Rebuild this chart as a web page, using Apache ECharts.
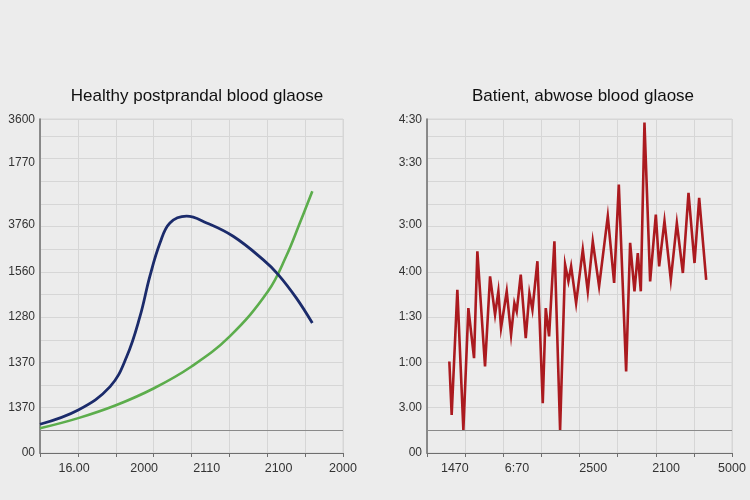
<!DOCTYPE html>
<html>
<head>
<meta charset="utf-8">
<script src="https://cdn.jsdelivr.net/npm/echarts@6/dist/echarts.min.js"></script>
<style>html,body{margin:0;padding:0;background:#ececec;}#c{width:750px;height:500px;}</style>
</head>
<body>
<div id="c"></div>
<script>
// ---- Data ----
const leftTitle = 'Healthy postprandal blood glaose';
const rightTitle = 'Batient, abwose blood glaose';

// left panel y tick labels and their positions on the value axis
const leftYLabels = ['00', '1370', '1370', '1280', '1560', '3760', '1770', '3600'];
const leftYLabelValues = [0, 2, 4, 6, 8, 10.1, 12.8, 14.72];
const leftXLabels = ['16.00', '2000', '2110', '2100', '2000'];
const leftXLabelValues = [0.9, 2.75, 4.4, 6.3, 8];

const rightYLabels = ['00', '3.00', '1:00', '1:30', '4:00', '3:00', '3:30', '4:30'];
const rightYLabelValues = [0, 2, 4, 6, 8, 10.1, 12.8, 14.72];
const rightXLabels = ['1470', '6:70', '2500', '2100', '5000'];
const rightXLabelValues = [0.73, 2.36, 4.36, 6.27, 8];

// Healthy: glucose curve (navy) and second curve (green)
const navyX = [0, 1.01, 1.85, 2.29, 2.64, 2.90, 3.17, 3.43, 3.87, 4.40, 5.10, 5.89, 6.29, 6.77, 7.19];
const navyY = [1.27, 1.90, 2.93, 4.26, 6.03, 7.80, 9.28, 10.16, 10.46, 10.16, 9.57, 8.54, 7.88, 6.84, 5.74];
const greenX = [0, 1.01, 2.02, 3.01, 4.0, 5.01, 6.02, 6.5, 6.86, 7.19];
const greenY = [1.09, 1.54, 2.12, 2.86, 3.82, 5.15, 7.14, 8.69, 10.16, 11.56];

// Patient: jagged glucose trace (red)
const redX = [0.586, 0.647, 0.796, 0.954, 1.085, 1.234, 1.321, 1.522, 1.654, 1.785, 1.872, 1.942, 2.091, 2.205, 2.292, 2.353, 2.459, 2.590, 2.686, 2.765, 2.896, 3.036, 3.115, 3.202, 3.342, 3.491, 3.622, 3.709, 3.780, 3.911, 4.086, 4.217, 4.348, 4.514, 4.742, 4.908, 5.031, 5.223, 5.328, 5.442, 5.529, 5.608, 5.704, 5.853, 6.002, 6.089, 6.229, 6.395, 6.553, 6.711, 6.859, 7.017, 7.139, 7.323];
const redY = [4.04, 1.68, 7.21, 1.02, 6.40, 4.19, 8.91, 3.82, 7.80, 6.11, 7.14, 5.52, 7.14, 5.22, 6.62, 6.25, 7.88, 5.07, 7.06, 6.33, 8.47, 2.20, 6.40, 5.15, 9.35, 1.02, 8.32, 7.58, 8.24, 6.62, 8.98, 7.14, 9.35, 7.36, 10.46, 7.51, 11.86, 3.60, 9.28, 7.14, 8.83, 7.14, 14.59, 7.58, 10.53, 8.24, 10.24, 7.65, 10.16, 7.95, 11.49, 8.39, 11.27, 7.65];

const baselineValue = 1;

function zip(xs, ys) { return xs.map((x, i) => [x, ys[i]]); }

const FONT = "'Liberation Sans', Arial, sans-serif";
const gridColor = '#d6d6d6';
const axisColor = '#6e6e6e';

function makeX(idx, labels, values) {
  return {
    type: 'value', gridIndex: idx, min: 0, max: 8, interval: 1,
    axisLine: { show: true, onZero: false, lineStyle: { color: axisColor, width: 1.2 } },
    axisTick: { show: true, length: 4, lineStyle: { color: axisColor } },
    splitLine: { show: true, lineStyle: { color: gridColor, width: 1 } },
    axisLabel: {
      customValues: values,
      formatter: v => { const i = values.findIndex(x => Math.abs(x - v) < 1e-6); return i >= 0 ? labels[i] : ''; },
      color: '#333', fontSize: 12.5, fontFamily: FONT, margin: 9
    }
  };
}
function makeY(idx, labels, values) {
  return {
    type: 'value', gridIndex: idx, min: 0, max: 14.75, interval: 1,
    axisLine: { show: true, onZero: false, lineStyle: { color: axisColor, width: 1.5 } },
    axisTick: { show: false },
    splitLine: { show: true, lineStyle: { color: gridColor, width: 1 } },
    axisLabel: {
      customValues: values,
      formatter: v => { const i = values.findIndex(x => Math.abs(x - v) < 1e-6); return i >= 0 ? labels[i] : ''; },
      color: '#333', fontSize: 12, fontFamily: FONT, margin: 5
    }
  };
}
const baseline = {
  silent: true, symbol: 'none', label: { show: false },
  lineStyle: { color: '#8a8a8a', width: 1.2, type: 'solid' },
  data: [{ yAxis: baselineValue }]
};

const chart = echarts.init(document.getElementById('c'), null, { renderer: 'canvas' });
chart.setOption({
  backgroundColor: '#ececec',
  animation: false,
  title: [
    { text: leftTitle, left: 192, top: 83, textAlign: 'center',
      textStyle: { fontFamily: FONT, fontSize: 17, fontWeight: 'normal', color: '#111' } },
    { text: rightTitle, left: 578, top: 83, textAlign: 'center',
      textStyle: { fontFamily: FONT, fontSize: 17, fontWeight: 'normal', color: '#111' } }
  ],
  grid: [
    { left: 40, top: 119, width: 303, height: 334, show: true, borderColor: gridColor, borderWidth: 1, backgroundColor: 'transparent' },
    { left: 427, top: 119, width: 305, height: 334, show: true, borderColor: gridColor, borderWidth: 1, backgroundColor: 'transparent' }
  ],
  xAxis: [makeX(0, leftXLabels, leftXLabelValues), makeX(1, rightXLabels, rightXLabelValues)],
  yAxis: [makeY(0, leftYLabels, leftYLabelValues), makeY(1, rightYLabels, rightYLabelValues)],
  series: [
    { type: 'line', xAxisIndex: 0, yAxisIndex: 0, data: zip(greenX, greenY), smooth: 0.4, showSymbol: false,
      lineStyle: { color: '#5cad4c', width: 2.6 }, markLine: baseline, z: 3 },
    { type: 'line', xAxisIndex: 0, yAxisIndex: 0, data: zip(navyX, navyY), smooth: 0.4, showSymbol: false,
      lineStyle: { color: '#1b2b6b', width: 2.8 }, z: 4 },
    { type: 'line', xAxisIndex: 1, yAxisIndex: 1, data: zip(redX, redY), smooth: false, showSymbol: false,
      lineStyle: { color: '#ab1a1f', width: 2.6, join: 'miter' }, markLine: baseline, z: 3 }
  ]
});
</script>
</body>
</html>
